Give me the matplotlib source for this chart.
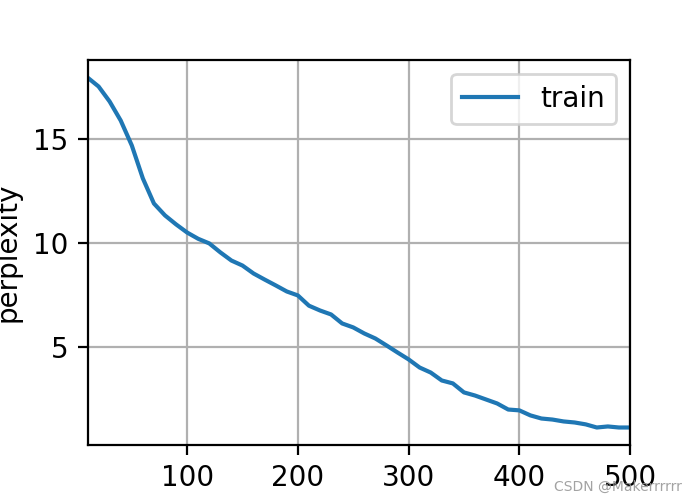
import matplotlib
matplotlib.use("Agg")
import matplotlib.pyplot as plt

# perplexity per 10 epochs
epochs = list(range(10, 510, 10))
train_ppl = [
    17.92, 17.49, 16.77, 15.86, 14.67, 13.09, 11.89, 11.32, 10.89, 10.50,
    10.20, 9.98, 9.55, 9.16, 8.92, 8.54, 8.25, 7.97, 7.68, 7.49,
    7.00, 6.77, 6.58, 6.15, 5.96, 5.67, 5.43, 5.10, 4.76, 4.43,
    4.04, 3.80, 3.42, 3.28, 2.85, 2.70, 2.51, 2.32, 2.03, 1.99,
    1.75, 1.60, 1.55, 1.46, 1.41, 1.32, 1.17, 1.22, 1.17, 1.17,
]
legend_labels = ["train"]

fig = plt.figure(figsize=(3.5, 2.5), dpi=200)
ax = fig.add_subplot(111)
ax.plot(epochs, train_ppl, color="#1f77b4", linewidth=1.5)
ax.set_xlim(10, 500)
ax.set_ylabel("perplexity")
ax.grid(True)
ax.legend(legend_labels)

fig.text(0.792, 0.018, "CSDN @Makerrrrrr", fontsize=5, color="#999999",
         alpha=0.9)

fig.savefig("out.png", dpi=200)
